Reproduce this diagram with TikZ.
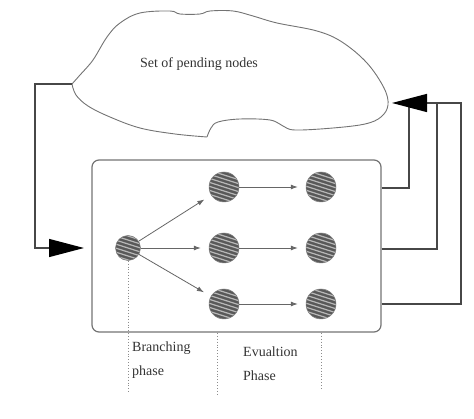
\documentclass[tikz,border=0pt]{standalone}
\usepackage{fontspec}
\setmainfont{Liberation Serif}
\usetikzlibrary{arrows.meta}
\begin{document}
\begin{tikzpicture}[x=1pt,y=-1pt,
  hatchnode/.style={circle, draw=black!50, line width=0.5pt, fill=black!65,
    minimum size=#1, inner sep=0pt,
    path picture={\foreach \i in {-28,-24,...,28}{%
      \draw[black!28, line width=1.2pt]
        ([shift={(-22pt,\i pt+7pt)}]path picture bounding box.center) --
        ([shift={(22pt,\i pt-7pt)}]path picture bounding box.center);}}},
  arr/.style={draw=black!60, line width=0.8pt, -{Latex[length=7pt,width=5pt]}, shorten >=8pt},
  conn/.style={draw=black!72, line width=1.4pt},
  bigtip/.style={-{Triangle[length=35pt,width=18pt,fill=black,color=black]}},
  phase/.style={draw=black!45, line width=0.9pt, dotted},
  lbl/.style={font=\fontsize{14}{16}\selectfont, text=black!80, inner sep=0pt}
]
\useasboundingbox (0,0) rectangle (474,419);

% cloud
\draw[black!55, line width=0.9pt] plot[smooth, tension=0.6] coordinates {
  (72,84) (80,75) (93,60) (107,37) (120,23) (140,13) (170,11) (180,14)
  (200,14) (210,11) (233,11) (253,16) (277,23) (317,31) (342,42) (367,63)
  (384,88) (388,105) (381,117) (365,124) (333,128) (295,130) (283,126)
  (270,120) (240,119) (218,122) (211,128) (207,137)};
\draw[black!55, line width=0.9pt] plot[smooth, tension=0.6] coordinates {
  (207,137) (175,134) (140,128) (110,117) (88,106) (76,95) (72,84)};
\coordinate (cloudL) at (72,84);
\coordinate (cloudR) at (392,103);
\node[lbl] (title) at (199,64) {Set of pending nodes};

% box
\node[draw=black!55, line width=1.2pt, rounded corners=7pt,
  minimum width=289pt, minimum height=172pt, inner sep=0pt] (box) at (236.5,246) {};

% nodes
\node[hatchnode=25pt] (R) at (128,248) {};
\node[hatchnode=30pt] (M1) at (224,187) {};
\node[hatchnode=30pt] (M2) at (224,248) {};
\node[hatchnode=30pt] (M3) at (224,304) {};
\node[hatchnode=30pt] (E1) at (321,187) {};
\node[hatchnode=30pt] (E2) at (321,248) {};
\node[hatchnode=30pt] (E3) at (321,304) {};

\draw[arr] (R) -- (M1);
\draw[arr] (R) -- (M2);
\draw[arr] (R) -- (M3);
\draw[arr] (M1) -- (E1);
\draw[arr] (M2) -- (E2);
\draw[arr] (M3) -- (E3);

% feedback connectors
\coordinate (lc) at (35,84);
\coordinate (inL) at (84,248);
\draw[conn, bigtip] (cloudL) -- (lc) |- (inL);

\coordinate (j1) at (409,103);
\coordinate (j2) at (437,103);
\coordinate (j3) at (461,103);
\draw[conn] (box.east |- 0,188) -| (j1);
\draw[conn] (box.east |- 0,249) -| (j2);
\draw[conn, bigtip] (box.east |- E3) -| (j3) -- (cloudR);

% phase markers
\coordinate (d1) at (128,392);
\coordinate (d2) at (217,395);
\coordinate (d3) at (321,390);
\draw[phase] (R.south) -- (d1);
\draw[phase] (217,333) -- (d2);
\draw[phase] (321,333) -- (d3);

\node[lbl, anchor=west] (b1) at (132,348) {Branching};
\node[lbl, anchor=west] (b2) at (132,372) {phase};
\node[lbl, anchor=west] (e1) at (243,352) {Evualtion};
\node[lbl, anchor=west] (e2) at (243,376) {Phase};
\end{tikzpicture}
\end{document}
